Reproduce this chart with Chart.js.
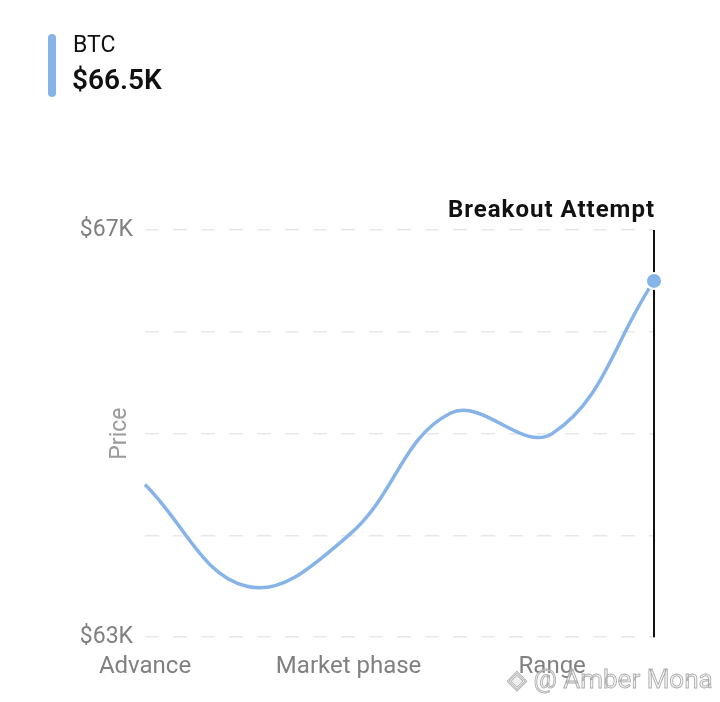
<!DOCTYPE html>
<html>
<head>
<meta charset="utf-8">
<script src="https://cdn.jsdelivr.net/npm/chart.js@4/dist/chart.umd.min.js"></script>
<style>
  html, body { margin: 0; padding: 0; background: #fff; }
  body { width: 720px; height: 702px; position: relative; overflow: hidden; font-family: Roboto, "Noto Sans", sans-serif; }
  #wrap { position: absolute; left: 0; top: 0; width: 720px; height: 702px; }
  .legend-bar { position: absolute; left: 48px; top: 34px; width: 8px; height: 63px; border-radius: 4px; background: #86b3e8; }
  .legend-name { position: absolute; left: 73px; top: 32px; font-size: 23px; line-height: 26px; color: #111; }
  .legend-value { position: absolute; left: 72px; top: 64px; font-size: 28px; line-height: 32px; font-weight: 600; color: #111; }
  .watermark { position: absolute; left: 507px; top: 664px; font-size: 26px; color: rgba(235,235,235,0.7);
               -webkit-text-stroke: 0.8px rgba(150,150,150,0.8); white-space: nowrap; }
</style>
</head>
<body>
<div id="wrap"><canvas id="chart"></canvas></div>
<div class="legend-bar"></div>
<div class="legend-name" id="legendName"></div>
<div class="legend-value" id="legendValue"></div>
<div class="watermark">◈ @ Amber Mona</div>
<script>
// datos del grafico
const phases = ["Advance", "", "Market phase", "", "Range", ""];
const btcPrice = [64.5, 63.5, 64.0, 65.2, 65.0, 66.5];   // miles de USD
const yTicksShown = [63, 67];
const seriesName = "BTC";
const markerIndex = 5;
const markerLabel = "Breakout Attempt";

const lineColor = "#86b3e8";

document.getElementById("legendName").textContent = seriesName;
document.getElementById("legendValue").textContent = "$" + btcPrice[btcPrice.length - 1] + "K";

// linea vertical con etiqueta
const markerPlugin = {
  id: "marker",
  afterDatasetsDraw(chart) {
    const { ctx, chartArea, scales } = chart;
    const x = scales.x.getPixelForValue(markerIndex);
    ctx.save();
    ctx.strokeStyle = "#111";
    ctx.lineWidth = 2;
    ctx.beginPath();
    ctx.moveTo(x, chartArea.top);
    ctx.lineTo(x, chartArea.bottom);
    ctx.stroke();
    ctx.fillStyle = "#111";
    ctx.font = "bold 24px Roboto";
    ctx.letterSpacing = "1px";
    ctx.textAlign = "right";
    ctx.textBaseline = "alphabetic";
    ctx.fillText(markerLabel, x + 1, chartArea.top - 13);
    ctx.restore();
    // redibujar el punto encima de la linea
    const meta = chart.getDatasetMeta(0);
    meta.data[markerIndex].draw(ctx, chartArea);
  }
};

new Chart(document.getElementById("chart").getContext("2d"), {
  type: "line",
  data: {
    labels: phases,
    datasets: [{
      label: seriesName,
      data: btcPrice,
      borderColor: lineColor,
      borderWidth: 3.5,
      tension: 0.4,
      fill: false,
      pointRadius: btcPrice.map((v, i) => i === markerIndex ? 8 : 0),
      pointBackgroundColor: lineColor,
      pointBorderColor: "#ffffff",
      pointBorderWidth: 2,
      pointHoverRadius: 0
    }]
  },
  options: {
    responsive: true,
    maintainAspectRatio: false,
    animation: false,
    devicePixelRatio: 1,
    layout: { padding: { top: 230, right: 66, bottom: 6, left: 0 } },
    plugins: { legend: { display: false }, tooltip: { enabled: false } },
    scales: {
      x: {
        grid: { display: false, drawTicks: false },
        border: { display: false },
        ticks: {
          color: "#808080",
          font: { family: "Roboto", size: 24 },
          padding: 15,
          maxRotation: 0,
          autoSkip: false
        }
      },
      y: {
        min: 63,
        max: 67,
        border: { display: false, dash: [14, 14] },
        grid: { color: "#e8e8e8", lineWidth: 1.5, drawTicks: false },
        afterFit(scale) { scale.width = 145; },
        ticks: {
          stepSize: 1,
          color: "#808080",
          font: { family: "Roboto", size: 23 },
          padding: 12,
          callback: v => yTicksShown.includes(v) ? "$" + v + "K" : ""
        },
        title: {
          display: true,
          text: "Price",
          color: "#9a9a9a",
          font: { family: "Roboto", size: 23 },
          padding: { top: 106, bottom: 0 }
        }
      }
    }
  },
  plugins: [markerPlugin]
});
</script>
</body>
</html>
